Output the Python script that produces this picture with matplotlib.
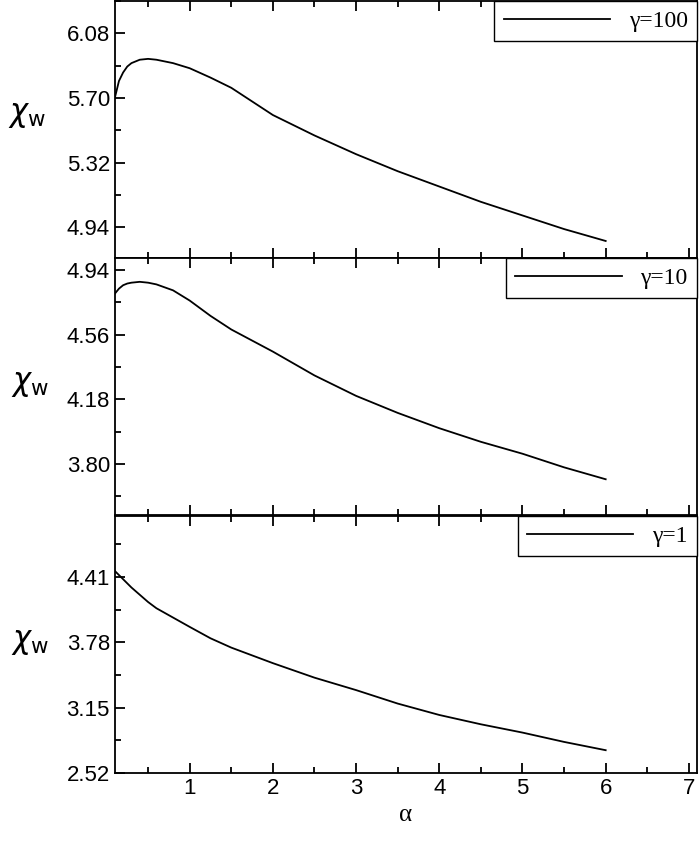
import matplotlib
matplotlib.use('Agg')
import matplotlib.pyplot as plt
from matplotlib.ticker import AutoMinorLocator

alpha = [0.1, 0.15, 0.2, 0.25, 0.3, 0.4, 0.5, 0.6, 0.8, 1.0, 1.25, 1.5, 2.0, 2.5, 3.0, 3.5, 4.0, 4.5, 5.0, 5.5, 6.0]
chi_100 = [5.70, 5.80, 5.85, 5.885, 5.905, 5.925, 5.93, 5.925, 5.905, 5.875, 5.82, 5.76, 5.60, 5.48, 5.37, 5.27, 5.18, 5.09, 5.01, 4.93, 4.86]
chi_10 = [4.80, 4.83, 4.85, 4.86, 4.865, 4.87, 4.865, 4.855, 4.82, 4.76, 4.67, 4.59, 4.46, 4.32, 4.20, 4.10, 4.01, 3.93, 3.86, 3.78, 3.71]
chi_1 = [4.47, 4.43, 4.39, 4.35, 4.31, 4.24, 4.17, 4.11, 4.02, 3.93, 3.82, 3.73, 3.58, 3.44, 3.32, 3.19, 3.08, 2.99, 2.91, 2.82, 2.74]

panels = [
    (chi_100, 'γ=100', [4.94, 5.32, 5.70, 6.08], (4.76, 6.27)),
    (chi_10, 'γ=10', [3.80, 4.18, 4.56, 4.94], (3.50, 5.01)),
    (chi_1, 'γ=1', [2.52, 3.15, 3.78, 4.41], (2.52, 5.00)),
]

plt.rcParams['font.family'] = ['Liberation Sans', 'DejaVu Sans']
fig = plt.figure(figsize=(7, 8.47), dpi=100)
left, width = 0.164, 0.832
h = 257 / 847
bottoms = [1 - 258 / 847, 1 - 515 / 847, 1 - 773 / 847]

for i, (chi, lab, yt, ylim) in enumerate(panels):
    ax = fig.add_axes([left, bottoms[i], width, h])
    ax.plot(alpha, chi, color='black', lw=1.3, label=lab)
    ax.set_xlim(0.1, 7.1)
    ax.set_ylim(*ylim)
    ax.set_yticks(yt)
    ax.set_yticklabels(['%.2f' % v for v in yt])
    ax.set_xticks(range(1, 8))
    ax.xaxis.set_minor_locator(AutoMinorLocator(2))
    ax.yaxis.set_minor_locator(AutoMinorLocator(2))
    ax.tick_params(which='both', direction='in', top=True, labelsize=16, width=1.3)
    ax.tick_params(which='major', length=7)
    ax.tick_params(which='minor', length=4)
    for s in ax.spines.values():
        s.set_linewidth(1.3)
    if i < 2:
        ax.tick_params(labelbottom=False)
    else:
        ax.set_xlabel('α', fontsize=18, family='Liberation Serif')
    ax.set_ylabel(r'$\chi_{\mathrm{w}}$', fontsize=22, rotation=0, labelpad=2)
    ax.yaxis.set_label_coords(-0.15 if i == 0 else -0.145, 0.5 if i == 0 else 0.45)
    leg = ax.legend(loc='upper right', fancybox=False, edgecolor='black', framealpha=1,
                    handlelength=4.5, borderaxespad=0,
                    prop={'family': 'Liberation Serif', 'size': 17})
    leg.get_frame().set_linewidth(1.0)

fig.savefig('out.png', dpi=100)
